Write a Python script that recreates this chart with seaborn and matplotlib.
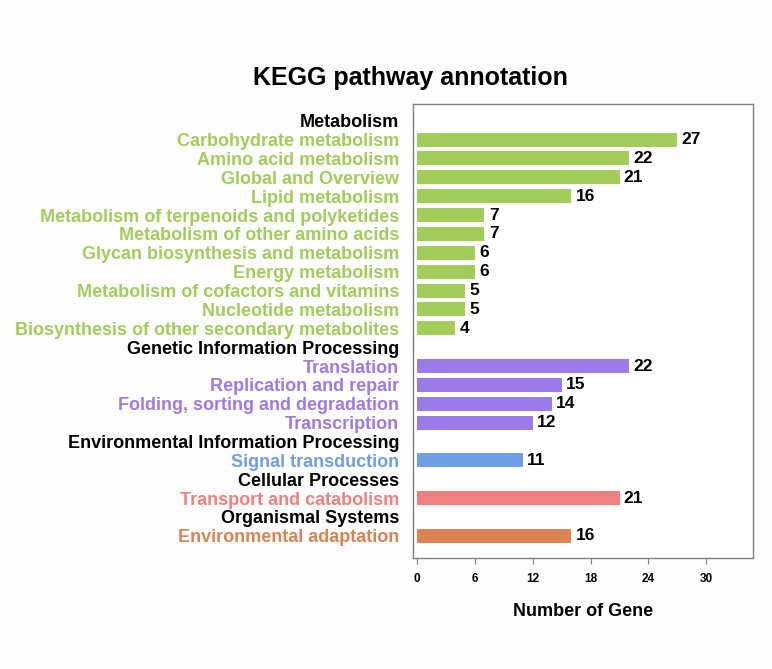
import numpy as np
import pandas as pd
import matplotlib
matplotlib.use("Agg")
import matplotlib.pyplot as plt
import seaborn as sns

# data
labels = ["Metabolism",
          "Carbohydrate metabolism", "Amino acid metabolism", "Global and Overview",
          "Lipid metabolism", "Metabolism of terpenoids and polyketides",
          "Metabolism of other amino acids", "Glycan biosynthesis and metabolism",
          "Energy metabolism", "Metabolism of cofactors and vitamins",
          "Nucleotide metabolism", "Biosynthesis of other secondary metabolites",
          "Genetic Information Processing",
          "Translation", "Replication and repair", "Folding, sorting and degradation",
          "Transcription",
          "Environmental Information Processing",
          "Signal transduction",
          "Cellular Processes",
          "Transport and catabolism",
          "Organismal Systems",
          "Environmental adaptation"]
values = [np.nan, 27, 22, 21, 16, 7, 7, 6, 6, 5, 5, 4,
          np.nan, 22, 15, 14, 12,
          np.nan, 11,
          np.nan, 21,
          np.nan, 16]
groups = ["header"] + ["Metabolism"] * 11 + ["header"] + ["Genetic"] * 4 + \
         ["header", "Environmental", "header", "Cellular", "header", "Organismal"]

colors = {"header": "black", "Metabolism": "#a2cd5a", "Genetic": "#9b7be9",
          "Environmental": "#6f9de8", "Cellular": "#f08080", "Organismal": "#db8352"}

df = pd.DataFrame({"label": labels, "value": values, "group": groups})

plt.rcParams['font.family'] = ['Liberation Sans', 'DejaVu Sans']
fig = plt.figure(figsize=(7.72, 6.69), dpi=100, facecolor="#fdfdfd")
ax = fig.add_axes([0.535, 0.166, 0.44, 0.679])

bars = df.dropna()
sns.barplot(data=bars, x="value", y="label", hue="group", order=labels,
            palette=colors, dodge=False, width=0.74, legend=False, ax=ax,
            saturation=1, edgecolor="none")

# value labels
for i, v in enumerate(values):
    if not np.isnan(v):
        ax.text(v + 0.45, i, str(int(v)), va="center", ha="left",
                fontsize=12.5, fontweight="bold")

ax.set_xlim(-0.4, 34.8)
ax.set_ylim(23.17, -0.9)
ax.set_xticks([0, 6, 12, 18, 24, 30])
ax.tick_params(axis="x", labelsize=8.5, length=4, width=0.8, color="#808080", pad=7)
for t in ax.get_xticklabels():
    t.set_fontweight("bold")

ax.set_yticks(range(len(labels)))
ax.set_yticklabels(labels, fontsize=13, fontweight="bold")
ax.tick_params(axis="y", length=0, pad=10)
for t, g in zip(ax.get_yticklabels(), groups):
    t.set_color(colors[g])

for s in ax.spines.values():
    s.set_color("#808080")
    s.set_linewidth(1)

ax.set_ylabel("")
ax.set_xlabel("Number of Gene", fontsize=13, fontweight="bold", labelpad=13)
ax.set_facecolor("white")

fig.text(410 / 772, 1 - 78 / 669, "KEGG pathway annotation", ha="center",
         va="center", fontsize=18, fontweight="bold")

fig.savefig("out.png", dpi=100, facecolor=fig.get_facecolor())
